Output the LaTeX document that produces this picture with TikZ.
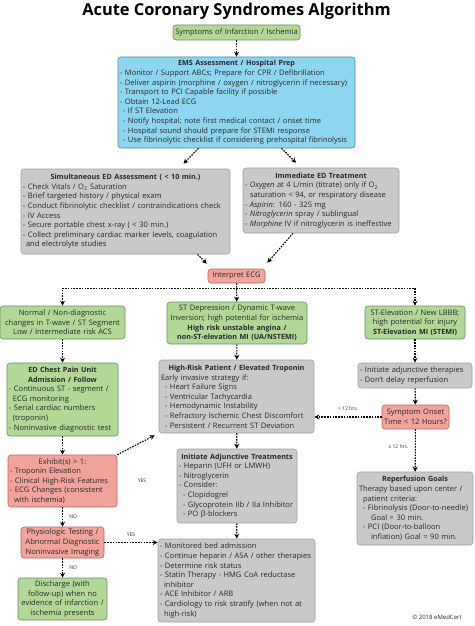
\documentclass[tikz,border=0pt]{standalone}
\usepackage{fontspec}
\setmainfont{Open Sans}
\usetikzlibrary{arrows.meta,calc}

\definecolor{textgray}{RGB}{40,40,40}
\definecolor{boxgreen}{RGB}{178,216,152}
\definecolor{edgegreen}{RGB}{110,140,95}
\definecolor{boxblue}{RGB}{142,214,240}
\definecolor{edgeblue}{RGB}{80,135,160}
\definecolor{boxgray}{RGB}{201,201,201}
\definecolor{edgegray}{RGB}{160,160,160}
\definecolor{boxpink}{RGB}{242,164,156}
\definecolor{edgepink}{RGB}{185,100,92}

% body text of the cards, no hyphenation
\newcommand{\cardfont}{\fontsize{7.55}{9.6}\selectfont\hyphenpenalty 10000\relax\exhyphenpenalty 10000\relax}
% bold headings run a little smaller than the body text
\newcommand{\hd}[1]{{\fontsize{7.2}{9.6}\selectfont\bfseries #1}}

\tikzset{
  card/.style={draw, rounded corners=3pt, line width=0.6pt, inner xsep=2pt, inner ysep=1.5pt,
    font=\cardfont, text=textgray, align=left},
  greencard/.style={card, fill=boxgreen, draw=edgegreen},
  bluecard/.style={card, fill=boxblue, draw=edgeblue},
  graycard/.style={card, fill=boxgray, draw=edgegray},
  pinkcard/.style={card, fill=boxpink, draw=edgepink},
  flow/.style={line width=1.1pt, dash pattern=on 1.6pt off 1.2pt,
    -{Stealth[length=5pt,width=5pt]}},
  tag/.style={font=\fontsize{5}{6}\selectfont, text=textgray}
}

\begin{document}
\begin{tikzpicture}[x=1pt,y=-1pt]
  \useasboundingbox[fill=white] (0,0) rectangle (474,626);

  \node[font=\bfseries\fontsize{16.4}{18}\selectfont, text=black] (title) at (236.5,11) {Acute Coronary Syndromes Algorithm};

  % top of the chart
  \node[greencard, align=center, text width=123pt, minimum height=15pt] (symptoms) at (236.5,32.5) {Symptoms of Infarction / Ischemia};
  \node[bluecard, text width=233pt, minimum height=91pt] (ems) at (236.5,102.5) {%
    {\centering\hd{EMS Assessment / Hospital Prep}\par}
    - Monitor / Support ABCs; Prepare for CPR / Defibrillation\\
    - Deliver aspirin (morphine / oxygen / nitroglycerin if necessary)\\
    - Transport to PCI Capable facility if possible\\
    - Obtain 12-Lead ECG\\
    \hspace*{3pt}- If ST Elevation\\
    \hspace*{3pt}- Notify hospital; note first medical contact / onset time\\
    \hspace*{3pt}- Hospital sound should prepare for STEMI response\\
    \hspace*{3pt}- Use fibrinolytic checklist if considering prehospital fibrinolysis};
  \node[graycard, text width=205pt, minimum height=85pt] (simul) at (125.5,211.5) {%
    {\centering\hd{Simultaneous ED Assessment ( < 10 min.)}\par}
    - Check Vitals / O\textsubscript{2} Saturation\\
    - Brief targeted history / physical exam\\
    - Conduct fibrinolytic checklist / contraindications check\\
    - IV Access\\
    - Secure portable chest x-ray ( < 30 min.)\\
    - Collect preliminary cardiac marker levels, coagulation\\
    \hspace*{3pt}and electrolyte studies};
  \node[graycard, text width=152pt, minimum height=65pt] (immed) at (321,200.5) {%
    {\centering\hd{Immediate ED Treatment}\par}
    - \textit{Oxygen} at 4 L/min (titrate) only if O\textsubscript{2}\\
    \hspace*{5pt}saturation < 94, or respiratory disease\\
    - \textit{Aspirin}: 160 - 325 mg\\
    - \textit{Nitroglycerin} spray / sublingual\\
    - \textit{Morphine} IV if nitroglycerin is ineffective};
  \node[pinkcard, align=center, text width=53pt, minimum height=14pt] (interpret) at (236.5,276) {Interpret ECG};

  % three ECG outcomes
  \node[greencard, align=center, text width=121pt, minimum height=33pt] (normal) at (62.5,322.5) {Normal / Non-diagnostic\\changes in T-wave / ST Segment\\Low / Intermediate risk ACS};
  \node[greencard, align=center, text width=136pt, minimum height=42pt] (stdep) at (237,323) {ST Depression / Dynamic T-wave\\Inversion; high potential for ischemia\\\hd{High risk unstable angina /}\\\hd{non-ST-elevation MI (UA/NSTEMI)}};
  \node[greencard, align=center, text width=96pt, minimum height=33pt] (stelev) at (415,322.5) {ST-Elevation / New LBBB;\\high potential for injury\\\hd{ST-Elevation MI (STEMI)}};

  % left column
  \node[greencard, text width=107pt, minimum height=73pt] (chest) at (62.5,399.5) {%
    {\centering\hd{ED Chest Pain Unit}\\\hd{Admission / Follow}\par}
    - Continuous ST - segment /\\
    \hspace*{4pt}ECG monitoring\\
    - Serial cardiac numbers\\
    \hspace*{4pt}(troponin)\\
    - Noninvasive diagnostic test};
  \node[pinkcard, text width=105pt, minimum height=52pt] (exhibit) at (62.5,481) {%
    {\centering Exhibit(s) > 1:\par}
    - Troponin Elevation\\
    - Clinical High-Risk Features\\
    - ECG Changes (consistent\\
    \hspace*{4pt}with ischemia)};
  \node[pinkcard, align=center, text width=79pt, minimum height=31pt] (physio) at (62.5,542.5) {Physiologic Testing /\\Abnormal Diagnostic\\Noninvasive Imaging};
  \node[greencard, align=center, text width=85pt, minimum height=42pt] (discharge) at (62.5,599) {Discharge (with\\follow-up) when no\\evidence of infarction /\\ischemia presents};

  % middle column
  \node[graycard, text width=151pt, minimum height=73pt] (highrisk) at (236.5,396.5) {%
    {\centering\hd{High-Risk Patient / Elevated Troponin}\par}
    Early invasive strategy if:\\
    \hspace*{4pt}- Heart Failure Signs\\
    \hspace*{4pt}- Ventricular Tachycardia\\
    \hspace*{4pt}- Hemodynamic Instability\\
    \hspace*{4pt}- Refractory Ischemic Chest Discomfort\\
    \hspace*{4pt}- Persistent / Recurrent ST Deviation};
  \node[graycard, text width=116pt, minimum height=74pt] (initadj) at (237,486) {%
    {\centering\hd{Initiate Adjunctive Treatments}\par}
    - Heparin (UFH or LMWH)\\
    - Nitroglycerin\\
    - Consider:\\
    \hspace*{4pt}- Clopidogrel\\
    \hspace*{4pt}- Glycoprotein IIb / IIa Inhibitor\\
    \hspace*{4pt}- PO β-blockers};
  \node[graycard, text width=153pt, minimum height=83pt] (monitor) at (236.5,580.5) {%
    - Monitored bed admission\\
    - Continue heparin / ASA / other therapies\\
    - Determine risk status\\
    - Statin Therapy - HMG CoA reductase\\
    \hspace*{4pt}inhibitor\\
    - ACE Inhibitor / ARB\\
    - Cardiology to risk stratify (when not at\\
    \hspace*{4pt}high-risk)};

  % right column
  \node[graycard, text width=110pt, minimum height=25pt] (adjther) at (415,375.5) {%
    - Initiate adjunctive therapies\\
    - Don't delay reperfusion};
  \node[pinkcard, align=center, text width=63pt, minimum height=24pt] (onset) at (415.5,417) {Symptom Onset\\Time < 12 Hours?};
  \node[graycard, text width=112pt, minimum height=73pt] (reperf) at (415,508.5) {%
    {\centering\hd{Reperfusion Goals}\par}
    Therapy based upon center /\\
    \hspace*{4pt}patient criteria:\\
    \hspace*{4pt}- Fibrinolysis (Door-to-needle)\\
    \hspace*{12pt}Goal = 30 min.\\
    \hspace*{4pt}- PCI (Door-to-balloon\\
    \hspace*{12pt}inflation) Goal = 90 min.};

  \node[font=\fontsize{6}{7}\selectfont, text=textgray] (credit) at (437,617) {© 2018 eMedCert};

  % connectors
  \draw[flow] (symptoms) -- (ems);
  \draw[flow] ([xshift=-38pt]ems.south) -- ([xshift=58pt,yshift=5pt]simul.north);
  \draw[flow] ([xshift=45pt]ems.south) -- ([xshift=-25pt,yshift=5pt]immed.north);
  \draw[flow] ([xshift=72pt]simul.south) -- ([xshift=-1pt,yshift=5pt]interpret.north west);
  \draw[flow] ([xshift=-28pt]immed.south) -- ([xshift=2pt,yshift=6pt]interpret.north east);
  \draw[flow] (interpret) -- (stdep);
  \coordinate (split) at ($(interpret.south)+(0,5)$);
  \draw[flow, {Stealth[length=5pt,width=5pt]}-{Stealth[length=5pt,width=5pt]}] (normal.north) |- (split) -| (stelev.north);
  \draw[flow] (normal) -- (chest);
  \draw[flow] (chest) -- (exhibit);
  \draw[flow] (exhibit.north east) -- ([xshift=-4pt,yshift=-2pt]highrisk.south west);
  \node[tag] at (142,481) {YES};
  \draw[flow] (exhibit) -- node[tag, right=3pt] {NO} (physio);
  \draw[flow] (physio.east) -- node[tag, above=2pt] {YES} (physio.east -| monitor.west);
  \draw[flow] (physio) -- node[tag, right=3pt] {NO} (discharge);
  \draw[flow] (stdep) -- (highrisk);
  \draw[flow] (highrisk) -- (initadj);
  \draw[flow] (initadj) -- (monitor);
  \draw[flow] (stelev) -- (adjther);
  \draw[flow] (adjther) -- (onset);
  \draw[flow] (onset.west) -- node[tag, above=3pt] {> 12 hrs.} (onset.west -| highrisk.east);
  \draw[flow] (onset) -- node[tag, left=3pt, pos=0.4] {≤ 12 hrs.} (reperf);
\end{tikzpicture}
\end{document}
